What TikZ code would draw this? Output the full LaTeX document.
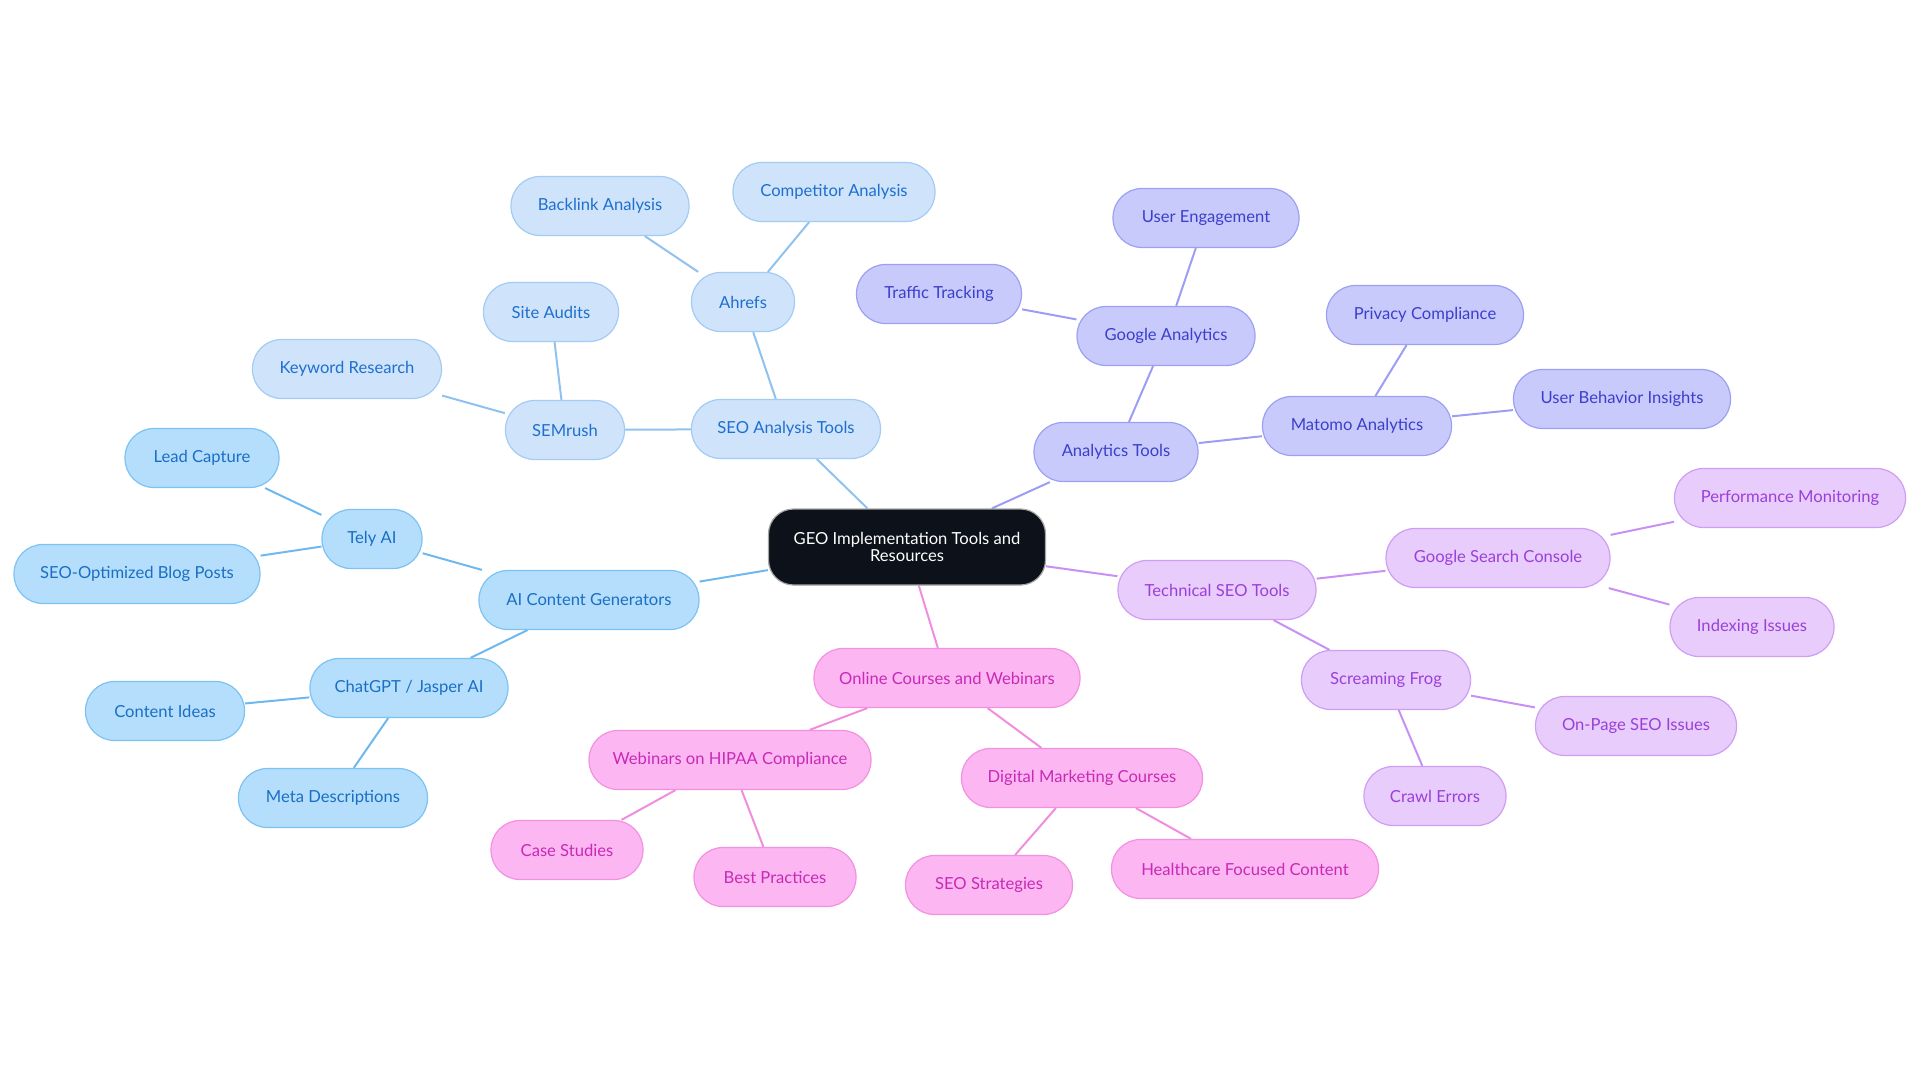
\documentclass[tikz,border=0pt]{standalone}
\usepackage{fontspec}
\setmainfont{Lato}
\usepackage{xcolor}
\usepackage{tikz}
\usetikzlibrary{positioning,backgrounds}
\definecolor{rootfill}{HTML}{0C111A}
\definecolor{seofill}{HTML}{CFE4FB}
\definecolor{seodraw}{HTML}{A3CBF3}
\definecolor{seotext}{HTML}{1E6FD0}
\definecolor{seoedge}{HTML}{90C2F0}
\definecolor{aifill}{HTML}{B4DEFC}
\definecolor{aidraw}{HTML}{7CC2F3}
\definecolor{aitext}{HTML}{1A6FC4}
\definecolor{aiedge}{HTML}{6FB8EE}
\definecolor{anfill}{HTML}{C8CAFC}
\definecolor{andraw}{HTML}{9DA0F2}
\definecolor{antext}{HTML}{3B3FCB}
\definecolor{anedge}{HTML}{9C9EF4}
\definecolor{tsfill}{HTML}{E8CCFC}
\definecolor{tsdraw}{HTML}{CE9EF2}
\definecolor{tstext}{HTML}{9A40D9}
\definecolor{tsedge}{HTML}{C790F2}
\definecolor{ocfill}{HTML}{FCB6F2}
\definecolor{ocdraw}{HTML}{F291E2}
\definecolor{octext}{HTML}{C82AB6}
\definecolor{ocedge}{HTML}{F08EDD}

\begin{document}
\begin{tikzpicture}[
    x=1pt,y=-1pt,
    pill/.style   = {rectangle,rounded corners=29pt,line width=1.2pt,align=center,
                     font=\fontsize{16.6}{19}\selectfont,minimum height=59pt,inner xsep=20pt},
    seo/.style    = {pill,draw=seodraw,fill=seofill,text=seotext},
    ai/.style     = {pill,draw=aidraw,fill=aifill,text=aitext},
    an/.style     = {pill,draw=andraw,fill=anfill,text=antext},
    ts/.style     = {pill,draw=tsdraw,fill=tsfill,text=tstext},
    oc/.style     = {pill,draw=ocdraw,fill=ocfill,text=octext},
    hub/.style    = {rectangle,rounded corners=25pt,draw=gray!70,line width=1.2pt,fill=rootfill,
                     text=white,align=center,font=\fontsize{16.6}{17}\selectfont,
                     minimum width=277pt,minimum height=76pt},
    ln/.style     = {line width=2pt},
  ]
  \useasboundingbox (0,0) rectangle (1920,1083);

  \node[hub] (root) at (907,547) {GEO Implementation Tools and\\Resources};

  % SEO analysis branch
  \node[seo,minimum width=189pt] (seotools)   at (786,429) {SEO Analysis Tools};
  \node[seo,minimum width=103pt] (ahrefs)     at (743,302) {Ahrefs};
  \node[seo,minimum width=178pt] (backlink)   at (600,206) {Backlink Analysis};
  \node[seo,minimum width=202pt] (competitor) at (834,192) {Competitor Analysis};
  \node[seo,minimum width=119pt] (semrush)    at (565,430) {SEMrush};
  \node[seo,minimum width=135pt] (audits)     at (551,312) {Site Audits};
  \node[seo,minimum width=189pt] (keyword)    at (347,369) {Keyword Research};

  % AI content branch
  \node[ai,minimum width=220pt] (aigen)   at (589,600) {AI Content Generators};
  \node[ai,minimum width=100pt] (tely)    at (372,539) {Tely AI};
  \node[ai,minimum width=154pt] (lead)    at (202,458) {Lead Capture};
  \node[ai,minimum width=246pt] (blog)    at (137,574) {SEO-Optimized Blog Posts};
  \node[ai,minimum width=198pt] (chatgpt) at (409,688) {ChatGPT / Jasper AI};
  \node[ai,minimum width=159pt] (ideas)   at (165,711) {Content Ideas};
  \node[ai,minimum width=189pt] (meta)    at (333,798) {Meta Descriptions};

  % analytics branch
  \node[an,minimum width=164pt] (analytics) at (1116,452) {Analytics Tools};
  \node[an,minimum width=178pt] (ganalytics) at (1166,336) {Google Analytics};
  \node[an,minimum width=186pt] (engage)    at (1206,218) {User Engagement};
  \node[an,minimum width=165pt] (traffic)   at (939,294) {Traffic Tracking};
  \node[an,minimum width=189pt] (matomo)    at (1357,426) {Matomo Analytics};
  \node[an,minimum width=197pt] (privacy)   at (1425,315) {Privacy Compliance};
  \node[an,minimum width=217pt] (behavior)  at (1622,399) {User Behavior Insights};

  % technical SEO branch
  \node[ts,minimum width=198pt] (techseo) at (1217,590) {Technical SEO Tools};
  \node[ts,minimum width=224pt] (gsc)     at (1498,558) {Google Search Console};
  \node[ts,minimum width=231pt] (perf)    at (1790,498) {Performance Monitoring};
  \node[ts,minimum width=164pt] (index)   at (1752,627) {Indexing Issues};
  \node[ts,minimum width=169pt] (frog)    at (1386,680) {Screaming Frog};
  \node[ts,minimum width=201pt] (onpage)  at (1636,726) {On-Page SEO Issues};
  \node[ts,minimum width=142pt] (crawl)   at (1435,796) {Crawl Errors};

  % courses branch
  \node[oc,minimum width=266pt] (courses) at (947,678) {Online Courses and Webinars};
  \node[oc,minimum width=282pt] (hipaa)   at (730,760) {Webinars on HIPAA Compliance};
  \node[oc,minimum width=152pt] (cases)   at (567,850) {Case Studies};
  \node[oc,minimum width=162pt] (best)    at (775,877) {Best Practices};
  \node[oc,minimum width=241pt] (digital) at (1082,778) {Digital Marketing Courses};
  \node[oc,minimum width=167pt] (strat)   at (989,885) {SEO Strategies};
  \node[oc,minimum width=267pt] (health)  at (1245,869) {Healthcare Focused Content};

  \begin{scope}[on background layer]
    \foreach \a/\b in {root/seotools,seotools/ahrefs,ahrefs/backlink,ahrefs/competitor,
                       seotools/semrush,semrush/audits,semrush/keyword}
      \draw[ln,seoedge] (\a) -- (\b);
    \foreach \a/\b in {root/aigen,aigen/tely,tely/lead,tely/blog,
                       aigen/chatgpt,chatgpt/ideas,chatgpt/meta}
      \draw[ln,aiedge] (\a) -- (\b);
    \foreach \a/\b in {root/analytics,analytics/ganalytics,ganalytics/engage,ganalytics/traffic,
                       analytics/matomo,matomo/privacy,matomo/behavior}
      \draw[ln,anedge] (\a) -- (\b);
    \foreach \a/\b in {root/techseo,techseo/gsc,gsc/perf,gsc/index,
                       techseo/frog,frog/onpage,frog/crawl}
      \draw[ln,tsedge] (\a) -- (\b);
    \foreach \a/\b in {root/courses,courses/hipaa,hipaa/cases,hipaa/best,
                       courses/digital,digital/strat,digital/health}
      \draw[ln,ocedge] (\a) -- (\b);
  \end{scope}

\end{tikzpicture}
\end{document}
